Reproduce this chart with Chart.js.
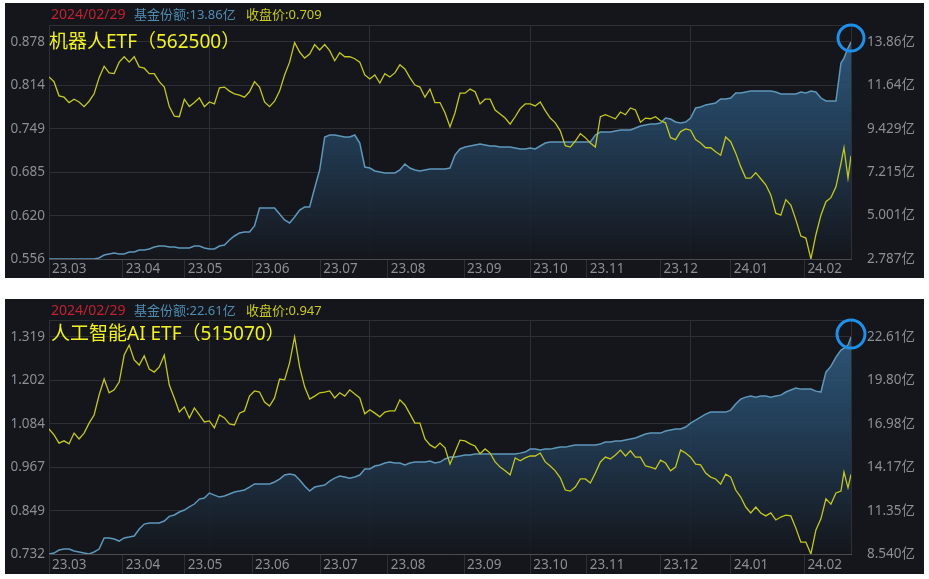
<!DOCTYPE html>
<html>
<head>
<meta charset="utf-8">
<script src="https://cdn.jsdelivr.net/npm/chart.js@4"></script>
<style>
  html, body { margin: 0; padding: 0; background: #fff; width: 929px; height: 579px; overflow: hidden; }
  body { font-family: "Noto Sans", "Noto Sans CJK SC", sans-serif; }
  .panel { position: absolute; left: 5px; width: 919px; height: 275px; background: #14161c; }
  .panel canvas { position: absolute; left: 0; top: 0; }
  .head { position: absolute; top: 3px; font-size: 13px; line-height: 16px; white-space: nowrap; }
  .date { font-size: 14px; }
  .name { position: absolute; font-size: 19px; line-height: 26px; color: #f0f024; white-space: nowrap; }
</style>
</head>
<body>
<div class="panel" style="top:3px">
  <canvas id="topChart" width="919" height="275"></canvas>
  <span class="head date" style="left:46px;color:#c4202e">2024/02/29</span>
  <span class="head" style="left:129px;color:#4f8db3">基金份额:13.86亿</span>
  <span class="head" style="left:241px;color:#c9c922">收盘价:0.709</span>
  <span class="name" style="left:44px;top:25px">机器人ETF（562500）</span>
</div>
<div class="panel" style="top:299px">
  <canvas id="bottomChart" width="919" height="275"></canvas>
  <span class="head date" style="left:46px;color:#c4202e">2024/02/29</span>
  <span class="head" style="left:129px;color:#4f8db3">基金份额:22.61亿</span>
  <span class="head" style="left:241px;color:#c9c922">收盘价:0.947</span>
  <span class="name" style="left:46px;top:21px">人工智能AI ETF（515070）</span>
</div>
<script>
// Position of each sample along the time axis (the last few are closer together)
const steps = Array.from({ length: 159 }, (_, i) => i).concat([158.6, 159.4, 160]);

// Month labels and where each month starts on that axis
const monthLabels = ['23.03', '23.04', '23.05', '23.06', '23.07', '23.08', '23.09', '23.10', '23.11', '23.12', '24.01', '24.02'];
const monthStarts = [0, 14.7, 27.1, 40.5, 54.1, 67.6, 82.8, 96, 107.3, 122, 136, 150.7];

// 机器人ETF (562500)
const topPrice = [
  .826, .819, .798, .796, .788, .793, .789, .782, .790, .801,
  .825, .842, .832, .831, .848, .856, .848, .856, .841, .839,
  .831, .831, .819, .811, .782, .768, .767, .793, .782, .788,
  .795, .782, .789, .786, .810, .811, .805, .801, .799, .796,
  .804, .819, .811, .789, .782, .790, .805, .829, .848, .877,
  .863, .854, .860, .874, .866, .874, .865, .850, .862, .856,
  .856, .853, .848, .829, .823, .829, .817, .831, .826, .832,
  .844, .838, .825, .814, .811, .796, .808, .788, .788, .773,
  .752, .773, .802, .802, .808, .804, .786, .793, .793, .777,
  .771, .765, .756, .767, .779, .786, .786, .783, .789, .776,
  .765, .758, .746, .724, .722, .731, .742, .736, .728, .722,
  .767, .770, .767, .764, .774, .770, .780, .777, .759, .765,
  .764, .767, .761, .758, .736, .733, .745, .749, .747, .733,
  .728, .721, .721, .715, .710, .737, .730, .713, .693, .676,
  .676, .684, .675, .666, .651, .624, .621, .644, .636, .614,
  .590, .587, .556, .592, .621, .641, .647, .663, .698, .721, .676, .709
];
const topShare = [
  2.787, 2.787, 2.787, 2.787, 2.787, 2.787, 2.787, 2.787, 2.787, 2.787,
  2.838, 2.991, 3.042, 3.093, 3.042, 3.042, 3.144, 3.144, 3.246, 3.246,
  3.297, 3.399, 3.450, 3.450, 3.399, 3.399, 3.348, 3.348, 3.348, 3.450,
  3.450, 3.348, 3.297, 3.297, 3.450, 3.501, 3.757, 3.961, 4.114, 4.165,
  4.165, 4.471, 5.390, 5.390, 5.390, 5.390, 5.083, 4.777, 4.624, 4.930,
  5.287, 5.441, 5.441, 6.410, 7.329, 9.013, 9.115, 9.115, 9.064, 9.013,
  9.013, 9.115, 8.706, 7.482, 7.431, 7.278, 7.227, 7.176, 7.176, 7.176,
  7.329, 7.635, 7.431, 7.329, 7.278, 7.329, 7.380, 7.380, 7.380, 7.380,
  7.431, 8.094, 8.400, 8.502, 8.553, 8.604, 8.655, 8.604, 8.553, 8.553,
  8.502, 8.502, 8.502, 8.451, 8.400, 8.400, 8.451, 8.400, 8.553, 8.706,
  8.758, 8.758, 8.758, 8.758, 8.758, 8.758, 8.758, 8.758, 8.758, 9.115,
  9.268, 9.268, 9.268, 9.319, 9.370, 9.370, 9.370, 9.472, 9.574, 9.625,
  9.676, 9.676, 9.727, 9.982, 9.931, 9.778, 9.727, 9.778, 9.982, 10.49,
  10.54, 10.65, 10.70, 10.75, 10.95, 10.95, 11.00, 11.26, 11.26, 11.31,
  11.36, 11.36, 11.36, 11.36, 11.36, 11.31, 11.21, 11.21, 11.21, 11.21,
  11.31, 11.26, 11.36, 11.31, 11.00, 10.85, 10.85, 10.85, 12.79, 13.04, 13.55, 13.86
];
const topPriceTicks = [0.556, 0.620, 0.685, 0.749, 0.814, 0.878];
const topShareTicks = [2.787, 5.001, 7.215, 9.429, 11.64, 13.86];
const topShareLabels = ['2.787亿', '5.001亿', '7.215亿', '9.429亿', '11.64亿', '13.86亿'];

// 人工智能AI ETF (515070)
const bottomPrice = [
  1.070, 1.054, 1.032, 1.038, 1.030, 1.059, 1.043, 1.059, 1.086, 1.108,
  1.162, 1.205, 1.168, 1.176, 1.197, 1.270, 1.297, 1.257, 1.243, 1.268,
  1.232, 1.224, 1.238, 1.270, 1.189, 1.154, 1.116, 1.130, 1.100, 1.127,
  1.108, 1.089, 1.092, 1.073, 1.108, 1.100, 1.084, 1.081, 1.113, 1.119,
  1.159, 1.173, 1.170, 1.143, 1.132, 1.154, 1.205, 1.203, 1.249, 1.319,
  1.238, 1.184, 1.151, 1.159, 1.168, 1.170, 1.173, 1.154, 1.168, 1.159,
  1.176, 1.165, 1.154, 1.111, 1.122, 1.113, 1.103, 1.116, 1.119, 1.119,
  1.149, 1.135, 1.111, 1.086, 1.086, 1.043, 1.027, 1.019, 1.032, 1.019,
  .975, 1.008, 1.040, 1.038, 1.030, 1.024, 1.003, 1.016, 1.005, .981,
  .967, .957, .946, .992, .984, .992, .997, .997, 1.005, .981,
  .970, .957, .938, .905, .902, .913, .935, .935, .924, .951,
  .981, .994, .989, 1.000, 1.013, .997, 1.011, .994, .994, .970,
  .967, .962, .986, .978, .957, .967, 1.013, 1.005, .994, .975,
  .973, .951, .940, .935, .921, .948, .940, .905, .886, .859,
  .843, .859, .843, .835, .843, .824, .832, .837, .835, .802,
  .764, .764, .732, .797, .827, .881, .867, .897, .902, .954, .911, .947
];
const bottomShare = [
  8.54, 8.60, 8.80, 8.86, 8.86, 8.73, 8.67, 8.60, 8.54, 8.67,
  8.86, 9.58, 9.58, 9.51, 9.38, 9.58, 9.64, 9.71, 10.16, 10.48,
  10.55, 10.55, 10.55, 10.68, 10.98, 11.07, 11.26, 11.39, 11.59, 11.78,
  12.10, 12.17, 12.49, 12.36, 12.23, 12.30, 12.43, 12.56, 12.62, 12.69,
  12.88, 13.08, 13.08, 13.08, 13.08, 13.21, 13.40, 13.66, 13.72, 13.66,
  13.34, 12.95, 12.62, 12.88, 12.95, 13.01, 13.27, 13.46, 13.59, 13.53,
  13.46, 13.53, 13.66, 14.05, 14.05, 14.24, 14.31, 14.44, 14.50, 14.44,
  14.44, 14.31, 14.44, 14.50, 14.50, 14.50, 14.57, 14.44, 14.50, 14.70,
  14.83, 14.83, 14.89, 14.96, 14.96, 15.02, 15.02, 15.02, 15.02, 15.02,
  15.02, 15.02, 15.02, 15.02, 15.08, 15.15, 15.34, 15.34, 15.28, 15.34,
  15.34, 15.41, 15.47, 15.47, 15.54, 15.60, 15.60, 15.60, 15.60, 15.60,
  15.67, 15.80, 15.80, 15.86, 15.86, 15.93, 15.99, 16.06, 16.19, 16.32,
  16.38, 16.38, 16.38, 16.51, 16.58, 16.64, 16.64, 16.77, 17.03, 17.22,
  17.42, 17.61, 17.74, 17.74, 17.74, 17.74, 17.87, 18.26, 18.58, 18.71,
  18.78, 18.71, 18.78, 18.78, 18.71, 18.78, 18.84, 19.04, 19.17, 19.30,
  19.23, 19.23, 19.23, 19.10, 19.04, 20.33, 20.72, 21.31, 21.76, 21.89, 22.08, 22.61
];
const bottomPriceTicks = [0.732, 0.849, 0.967, 1.084, 1.202, 1.319];
const bottomShareTicks = [8.540, 11.35, 14.17, 16.98, 19.80, 22.61];
const bottomShareLabels = ['8.540亿', '11.35亿', '14.17亿', '16.98亿', '19.80亿', '22.61亿'];

const FONT = '"Noto Sans", "Noto Sans CJK SC", sans-serif';
const GRID = '#2d2f35';
const TICK = '#8b8e93';

// Fixed-size vertical axis, with no extra room for half a label at either end
function fixWidth(scale, width) {
  scale.width = width;
  scale.paddingTop = 0;
  scale.paddingBottom = 0;
}

/**
 * Draw one fund panel: share area + close price line.
 * The axis tops sit 17px above the last labelled tick (the header strip of the plot).
 */
function drawFund(id, opt) {
  const priceStep = opt.priceTicks[1] - opt.priceTicks[0];
  const shareStep = opt.shareTicks[1] - opt.shareTicks[0];
  const priceMax = opt.priceTicks[5] + priceStep * 17 / 43.4;
  const shareMax = opt.shareTicks[5] + shareStep * 17 / 43.4;

  new Chart(document.getElementById(id), {
    type: 'line',
    data: {
      datasets: [
        {
          data: [{ x: 160, y: opt.ringAt }],
          yAxisID: 'y1',
          clip: false,
          order: 0,
          showLine: false,
          pointRadius: opt.ringSize,
          pointHoverRadius: opt.ringSize,
          pointBorderWidth: 3,
          pointBorderColor: '#1e90ea',
          pointBackgroundColor: 'rgba(0,0,0,0)',
        },
        {
          data: opt.price.map((v, i) => ({ x: steps[i], y: v })),
          yAxisID: 'y',
          order: 1,
          borderColor: '#c4c81e',
          borderWidth: 1.3,
          pointRadius: 0,
          tension: 0,
        },
        {
          data: opt.share.map((v, i) => ({ x: steps[i], y: v })),
          yAxisID: 'y1',
          order: 2,
          borderColor: '#5f97ba',
          borderWidth: 1.5,
          pointRadius: 0,
          tension: 0,
          fill: 'start',
          backgroundColor: ctx => {
            const area = ctx.chart.chartArea;
            if (!area) return 'rgba(0,0,0,0)';
            const grad = ctx.chart.ctx.createLinearGradient(0, area.top, 0, area.bottom);
            grad.addColorStop(0, 'rgba(52,96,134,0.92)');
            grad.addColorStop(0.45, 'rgba(36,66,94,0.9)');
            grad.addColorStop(1, 'rgba(20,22,28,0.9)');
            return grad;
          },
        },
      ],
    },
    options: {
      responsive: false,
      animation: false,
      devicePixelRatio: 1,
      layout: { padding: { top: opt.plotTop, left: 0, right: 0, bottom: 0 } },
      plugins: { legend: { display: false }, tooltip: { enabled: false } },
      scales: {
        x: {
          type: 'linear',
          position: 'bottom',
          min: 0,
          max: 160,
          afterFit: s => { s.height = 0; },
          grid: { color: GRID, drawTicks: false },
          border: { display: false },
          ticks: { display: false, stepSize: 32 },
        },
        months: {
          type: 'linear',
          position: 'bottom',
          min: 0,
          max: 160,
          afterBuildTicks: s => { s.ticks = monthStarts.map(v => ({ value: v })); },
          afterFit: s => { s.height = opt.plotBottom; },
          grid: { drawOnChartArea: false, color: GRID, tickLength: opt.plotBottom },
          border: { color: '#4a4c52', dash: [1, 2] },
          ticks: {
            autoSkip: false,
            maxRotation: 0,
            align: 'start',
            labelOffset: 3,
            padding: -17,
            color: TICK,
            font: { family: FONT, size: 13.5 },
            callback: (v, i) => monthLabels[i],
          },
        },
        y: {
          position: 'left',
          min: opt.priceTicks[0],
          max: priceMax,
          afterBuildTicks: s => { s.ticks = opt.priceTicks.concat(priceMax).map(v => ({ value: v })); },
          afterFit: s => fixWidth(s, 44),
          grid: {
            drawTicks: false,
            color: c => (c.index === 0 ? 'rgba(0,0,0,0)' : GRID),
          },
          border: { display: false },
          ticks: {
            autoSkip: false,
            padding: 4,
            color: TICK,
            font: { family: FONT, size: 13.5 },
            callback: (v, i) => (i < 6 ? opt.priceTicks[i].toFixed(3) : ''),
          },
        },
        y1: {
          position: 'right',
          min: opt.shareTicks[0],
          max: shareMax,
          afterBuildTicks: s => { s.ticks = opt.shareTicks.concat(shareMax).map(v => ({ value: v })); },
          afterFit: s => fixWidth(s, 73),
          grid: { drawOnChartArea: false, drawTicks: false },
          border: { display: false },
          ticks: {
            autoSkip: false,
            padding: 16,
            color: TICK,
            font: { family: FONT, size: 13.5 },
            callback: (v, i) => (i < 6 ? opt.shareLabels[i] : ''),
          },
        },
      },
    },
  });
}

drawFund('topChart', {
  price: topPrice, share: topShare,
  priceTicks: topPriceTicks, shareTicks: topShareTicks, shareLabels: topShareLabels,
  plotTop: 22, plotBottom: 19, ringAt: 14.06, ringSize: 13,
});
drawFund('bottomChart', {
  price: bottomPrice, share: bottomShare,
  priceTicks: bottomPriceTicks, shareTicks: bottomShareTicks, shareLabels: bottomShareLabels,
  plotTop: 21, plotBottom: 20, ringAt: 22.80, ringSize: 14,
});
</script>
</body>
</html>
